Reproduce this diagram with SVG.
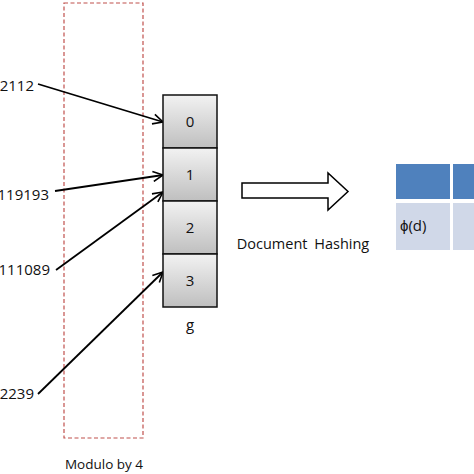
<svg xmlns="http://www.w3.org/2000/svg" width="474" height="474" viewBox="0 0 474 474">
<style>
text{font-family:"Open Sans","Liberation Sans",sans-serif;fill:#111}
.lbl{font-size:15px}
.cell{fill:url(#g);stroke:#111;stroke-width:1.5}
.num{font-size:15px;text-anchor:middle}
.conn{stroke:#000;stroke-width:1.8;fill:none;marker-end:url(#ah)}
</style>
<defs>
<linearGradient id="g" x1="0" y1="0" x2="0" y2="1">
<stop offset="0" stop-color="#f2f2f2"/>
<stop offset="1" stop-color="#bfbfbf"/>
</linearGradient>
<marker id="ah" viewBox="0 0 12 12" refX="11" refY="6" markerWidth="12" markerHeight="12" markerUnits="userSpaceOnUse" orient="auto">
<path d="M1,1 L11,6 L1,11" fill="none" stroke="#000" stroke-width="1.6"/>
</marker>
</defs>
<rect x="64" y="3" width="79" height="435" fill="none" stroke="#c0504d" stroke-width="1.2" stroke-dasharray="4,2.5"/>
<text x="104" y="469" font-size="13.5" text-anchor="middle">Modulo by 4</text>
<g id="labels">
<text class="lbl" x="34" y="91" text-anchor="end">2112</text>
<text class="lbl" x="49" y="200" text-anchor="end">119193</text>
<text class="lbl" x="50" y="275" text-anchor="end">111089</text>
<text class="lbl" x="34" y="399" text-anchor="end">2239</text>
</g>
<g id="connectors">
<line class="conn" x1="38" y1="84" x2="163" y2="122"/>
<line class="conn" x1="55" y1="191" x2="163" y2="175"/>
<line class="conn" x1="56" y1="270" x2="163" y2="192"/>
<line class="conn" x1="38" y1="394" x2="163" y2="272"/>
</g>
<g id="g-array">
<rect class="cell" x="163" y="95" width="54" height="53"/>
<text class="num" x="190" y="127">0</text>
<rect class="cell" x="163" y="148" width="54" height="53"/>
<text class="num" x="190" y="180">1</text>
<rect class="cell" x="163" y="201" width="54" height="53"/>
<text class="num" x="190" y="233">2</text>
<rect class="cell" x="163" y="254" width="54" height="53"/>
<text class="num" x="190" y="286">3</text>
<text x="190" y="330" font-size="15" text-anchor="middle">g</text>
</g>
<g id="hash-arrow">
<path d="M242,183 L328,183 L328,173 L348,191.5 L328,210 L328,198 L242,198 Z" fill="#fff" stroke="#000" stroke-width="1.5"/>
<text x="303" y="249" font-size="14.5" text-anchor="middle" style="word-spacing:3px">Document Hashing</text>
</g>
<g id="table">
<rect x="396" y="164" width="54" height="35" fill="#4f81bd"/>
<rect x="453" y="164" width="30" height="35" fill="#4f81bd"/>
<rect x="396" y="203" width="54" height="47" fill="#d0d8e8"/>
<rect x="453" y="203" width="30" height="47" fill="#d0d8e8"/>
<text x="400" y="231" font-size="15">ϕ(d)</text>
</g>
</svg>
